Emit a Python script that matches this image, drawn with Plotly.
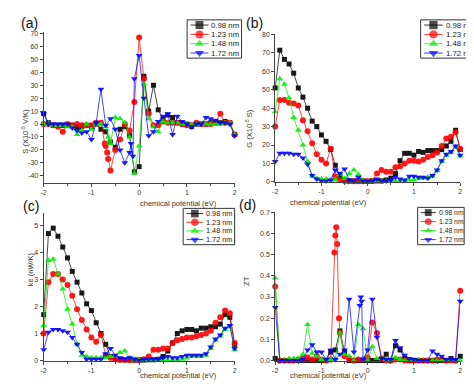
import plotly.graph_objects as go

W, H = 474, 386

labels = ["0.98 nm", "1.23 nm", "1.48 nm", "1.72 nm"]
colors = ["#000000", "#ff0000", "#00f000", "#0000ff"]
symbols = ["square", "circle", "triangle-up", "triangle-down"]
msizes = [5, 6, 6, 6]

grid = [round(-2 + 0.1 * i, 2) for i in range(41)]

# ---------------- (a) Seebeck S (x10^-5 V/K) ----------------
xa_098 = grid
Sa_098 = [8, 1, -1, -1, -1, -1, -1, -2, -2, -1, -2, 0, -4, -6, -14, -18, -4, -2, -9, -37, -33,
          37, 10, 30, 11, 4, 7, 5, 1, 0, 0, -2, 0, 0, 0, 1, 1, 1, 2, 1, -8]
xa_123 = grid[:13] + [-0.72, -0.7, -0.67, -0.65] + grid[14:]
Sa_123 = [0, 0, -1, -2, -6, 0, -1, 0, -1, -1, -1, 1, 1, -15, -17, -22, -27,
          -36, -20, -12, 0, -5, 17, 67, 35, 8, -1, -1, 2, 1, 1, 1, 0, -1, -1, 1, 0, 0, 0, 1, 8, 1, 1, -8]
xa_148 = grid[:14] + [-0.65, -0.62] + grid[14:]
Sa_148 = [0, 0, -1, -1, -1, -2, -2, -8, -5, 0, -4, 0, 0, -2, -10, -13,
          -15, 5, 4, 1, -10, -38, -17, 31, 4, -2, -6, 2, 1, 1, 1, 0, 0, -1, 0, 0, 0, 0, 0, 0, 1, 1, -8]
xa_172 = grid[:19] + [-0.17, -0.13] + grid[19:]
Sa_172 = [8, 0, 0, 0, 0, 0, -3, -5, -7, -6, -12, 1, 27, -1, 4, -4, -20, -30, -22, -15, -25,
          35, 53, 20, -9, -6, 2, 6, 8, -8, 6, 2, 0, -2, 0, 0, 5, 4, 3, 1, 1, 0, -9]

# ---------------- (b) Conductance G (x10^-5 S) ----------------
Gb_098 = [51, 71.5, 66.5, 64, 59, 51, 46, 40, 33, 30, 25.5, 22, 17.5, 9, 3, 1, 0.5, 0.5, 0.5, 0.5, 0.3,
          0.5, 0.5, 0.5, 1, 2, 4.5, 11.5, 15.5, 15.5, 14.5, 16.5, 16, 17, 17, 17, 17.5, 19.5, 22, 28, 17.5]
Gb_123 = [30, 44.5, 44.5, 43, 42.5, 41.5, 33.5, 27.5, 21, 15, 12, 10, 18, 3, 1, 0.5, 0.3, 0.3, 0.3, 0.3, 0.3,
          0.5, 4.5, 6.5, 5.5, 5.5, 8, 8.5, 10, 11.5, 11.5, 11, 12, 13.5, 14.5, 16, 19.5, 23.5, 24.5, 27, 18]
Gb_148 = [38, 56, 53, 45.5, 35, 28, 20, 11, 3, 2, 1.5, 1.5, 1, 1, 4, 2, 4.5, 6.5, 4, 1, 0.3,
          0.3, 0.3, 0.3, 0.3, 0.3, 0.5, 0.5, 0.5, 1, 1, 2, 2, 2.5, 3, 6, 11, 14.5, 16, 19, 14]
Gb_172 = [11, 15.5, 15.5, 15.5, 15, 15, 13, 9.5, 3.5, 1.5, 0.5, 0.5, 1, 6.5, 4.5, 7, 1, 0.5, 2.5, 0.5, 0.3,
          0.5, 1.5, 0.5, 0.5, 1, 2.5, 1.5, 1, 3, 3, 2.5, 2.5, 2, 3.5, 6.5, 11.5, 15, 16.5, 19.5, 14.5]

# ---------------- (c) Electron thermal conductance ke (nW/K) ----------------
Kc_098 = [1.7, 4.7, 4.9, 4.6, 4.2, 3.8, 3.3, 2.9, 2.5, 2.1, 1.85, 1.4, 1.0, 0.6, 0.15, 0.05, 0.03, 0.03, 0.03, 0.02, 0.02,
          0.02, 0.03, 0.03, 0.05, 0.15, 0.35, 0.65, 1.0, 1.1, 1.15, 1.15, 1.1, 1.2, 1.2, 1.25, 1.25, 1.35, 1.7, 1.6, 0.6]
Kc_123 = [1.0, 2.9, 3.2, 3.2, 3.0, 2.8, 2.4, 1.9, 1.5, 1.15, 0.85, 0.7, 0.95, 0.2, 0.1, 0.05, 0.03, 0.02, 0.02, 0.02, 0.02,
          0.05, 0.15, 0.4, 0.4, 0.45, 0.45, 0.65, 0.75, 0.8, 0.85, 0.85, 0.9, 0.95, 1.0, 1.1, 1.4, 1.6, 1.85, 1.75, 0.65]
Kc_148 = [1.3, 3.7, 3.75, 3.2, 2.65, 1.9, 1.35, 0.6, 0.2, 0.15, 0.1, 0.1, 0.1, 0.1, 0.15, 0.15, 0.3, 0.35, 0.1, 0.05, 0.02,
          0.02, 0.02, 0.02, 0.02, 0.02, 0.02, 0.02, 0.02, 0.05, 0.1, 0.15, 0.15, 0.15, 0.2, 0.45, 0.75, 0.9, 1.15, 1.25, 0.4]
Kc_172 = [0.4, 1.05, 1.15, 1.15, 1.1, 1.05, 0.85, 0.6, 0.3, 0.05, 0.05, 0.05, 0.05, 0.25, 0.45, 0.2, 0.1, 0.05, 0.1, 0.05, 0.0,
          0.05, 0.05, 0.05, 0.05, 0.1, 0.15, 0.1, 0.1, 0.15, 0.2, 0.2, 0.2, 0.2, 0.25, 0.5, 0.8, 0.95, 1.2, 1.3, 0.45]

# ---------------- (d) Figure of merit ZT ----------------
Zd_098 = [0.01, 0, 0, 0, 0, 0, 0, 0, 0, 0, 0, 0, 0.04, 0.05, 0.14, 0.04, 0, 0, 0, 0, 0,
          0, 0, 0, 0.03, 0, 0.07, 0.05, 0.01, 0, 0, 0, 0, 0, 0, 0, 0, 0, 0.01, 0, 0.02]
xd_123 = grid[:13] + [-0.72, -0.7, -0.68, -0.66, -0.62] + grid[14:]
Zd_123 = [0.35, 0, 0, 0, 0, 0.005, 0.01, 0.015, 0.005, 0.02, 0.005, 0, 0.005,
          0.51, 0.59, 0.63, 0.55, 0.2,
          0.13, 0.02, 0.01, 0, 0.005, 0.005, 0.015, 0.18, 0.13, 0.01, 0, 0, 0.005, 0.005, 0, 0, 0, 0, 0, 0, 0, 0.005, 0.005,
          0, 0, 0, 0.33]
Zd_148 = [0.39, 0, 0, 0.01, 0.01, 0.01, 0.03, 0.17, 0.035, 0.02, 0.005, 0, 0.005, 0.01, 0.13, 0.03, 0.02, 0, 0.17, 0.15, 0,
          0.065, 0.01, 0.01, 0.005, 0.005, 0.015, 0.005, 0, 0, 0, 0, 0, 0, 0, 0, 0, 0, 0, 0, 0]
xd_172 = grid[:18] + [-0.17, -0.15, -0.13] + grid[19:]
Zd_172 = [0.25, 0, 0, 0, 0, 0, 0.005, 0.05, 0.075, 0.04, 0.04, 0.005, 0.05, 0.005, 0.03, 0.05, 0.29, 0.04,
          0.26, 0.30, 0.28,
          0.005, 0.05, 0.29, 0.11, 0.01, 0.005, 0.005, 0.095, 0.06, 0.025, 0.01, 0.005, 0, 0, 0, 0.045, 0.03, 0.02, 0.005,
          0.005, 0.005, 0.28]

panels = [
    dict(xs=[xa_098, xa_123, xa_148, xa_172], ys=[Sa_098, Sa_123, Sa_148, Sa_172]),
    dict(xs=[grid] * 4, ys=[Gb_098, Gb_123, Gb_148, Gb_172]),
    dict(xs=[grid] * 4, ys=[Kc_098, Kc_123, Kc_148, Kc_172]),
    dict(xs=[grid, xd_123, grid, xd_172], ys=[Zd_098, Zd_123, Zd_148, Zd_172]),
]

# pixel boxes of each plot area: left, right, top, bottom
boxes = [(33, 226, 20, 174), (267, 454, 22, 173), (33, 226, 205, 355), (267, 454, 204, 355)]
yranges = [[-45.5, 71.5], [0, 80.5], [0, 5.45], [0, 0.7]]
ytickvals = [list(range(-40, 80, 10)), list(range(0, 90, 10)), list(range(0, 6)), [i / 10 for i in range(8)]]
yticktext = [[str(v) for v in ytickvals[0]], [str(v) for v in ytickvals[1]], [str(v) for v in ytickvals[2]],
             ["%.1f" % v for v in ytickvals[3]]]
ytitles = ["S (X10<sup>-5</sup> V/K)", "G (X10<sup>-5</sup> S)", "ke (nW/K)", "ZT"]
ytitle_x = [8, 241, 15, 238]
# legend boxes: left, top, width, height, font size
legend_box = [(178, 8, 55, 39, 7.8), (414, 8, 57, 39, 7.8), (174, 200, 52, 37, 7.3), (411, 199, 47, 38, 6.8)]
panel_labels = ["(a)", "(b)", "(c)", "(d)"]
panel_label_pos = [(9, 11), (236, 11), (11, 198), (229, 197)]

FONT = "Arial, Liberation Sans, sans-serif"
ax_col = "#444444"
tick_font = dict(family=FONT, size=7, color="#333333")

fig = go.Figure()

for p, panel in enumerate(panels):
    xa = "x" if p == 0 else "x%d" % (p + 1)
    ya = "y" if p == 0 else "y%d" % (p + 1)
    for s in range(4):
        fig.add_trace(go.Scatter(
            x=panel["xs"][s], y=panel["ys"][s], mode="lines+markers",
            name=labels[s], xaxis=xa, yaxis=ya, showlegend=False,
            line=dict(color=colors[s], width=0.8),
            marker=dict(symbol=symbols[s], size=msizes[s], color=colors[s], line=dict(width=0)),
            opacity=0.9, cliponaxis=False,
        ))
    l, r, t, b = boxes[p]
    xkey = "xaxis" if p == 0 else "xaxis%d" % (p + 1)
    ykey = "yaxis" if p == 0 else "yaxis%d" % (p + 1)
    fig.layout[xkey] = dict(
        domain=[l / W, r / W], anchor=ya, range=[-2, 2], tickvals=[-2, -1, 0, 1, 2],
        ticktext=["-2", "-1", "0", "1", "2"],
        showline=True, linecolor=ax_col, linewidth=1, ticks="outside", ticklen=3, tickcolor=ax_col,
        minor=dict(tickvals=[-1.5, -0.5, 0.5, 1.5], ticks="outside", ticklen=2, tickcolor=ax_col),
        showgrid=False, zeroline=False, tickfont=tick_font, fixedrange=True,
    )
    fig.layout[ykey] = dict(
        domain=[1 - b / H, 1 - t / H], anchor=xa, range=yranges[p],
        tickvals=ytickvals[p], ticktext=yticktext[p],
        showline=True, linecolor=ax_col, linewidth=1, ticks="outside", ticklen=3, tickcolor=ax_col,
        showgrid=False, zeroline=False, tickfont=tick_font, fixedrange=True,
    )
    # axis titles
    fig.add_annotation(x=(l + r) / 2 / W, y=1 - (b + 21) / H, xref="paper", yref="paper",
                       text="chemical potential (eV)", showarrow=False, borderpad=0,
                       font=dict(family=FONT, size=7.5, color="#333333"))
    fig.add_annotation(x=ytitle_x[p] / W, y=1 - (t + b) / 2 / H, xref="paper", yref="paper",
                       text=ytitles[p], showarrow=False, textangle=-90, borderpad=0,
                       font=dict(family=FONT, size=7.5, color="#333333"))
    px_, py_ = panel_label_pos[p]
    fig.add_annotation(x=px_ / W, y=1 - py_ / H, xref="paper", yref="paper", xanchor="left", yanchor="middle",
                       text=panel_labels[p], showarrow=False, borderpad=0,
                       font=dict(family=FONT, size=14, color="#111111"))

    # compact legend, drawn on an invisible full-page pixel axis
    lx, ly, lw, lh, lf = legend_box[p]
    k = lw / 55.0
    fig.add_shape(type="rect", xref="paper", yref="paper",
                  x0=lx / W, x1=(lx + lw) / W, y0=1 - ly / H, y1=1 - (ly + lh) / H,
                  line=dict(color="#333333", width=1), fillcolor="white", layer="below")
    for s in range(4):
        ry = ly + 5.3 + s * (lh - 10.5) / 3
        fig.add_trace(go.Scatter(
            x=[lx + 3.5 * k, lx + 12.5 * k, lx + 21.5 * k], y=[ry, ry, ry], mode="lines+markers",
            xaxis="x5", yaxis="y5", showlegend=False, hoverinfo="skip",
            line=dict(color=colors[s], width=0.8),
            marker=dict(symbol=symbols[s], size=[0, 8 * k, 0], color=colors[s], line=dict(width=0)),
            cliponaxis=False,
        ))
        fig.add_annotation(x=(lx + 23.5 * k) / W, y=1 - ry / H, xref="paper", yref="paper",
                           xanchor="left", yanchor="middle", text=labels[s], showarrow=False, borderpad=0,
                           font=dict(family=FONT, size=lf, color="#222222"))

fig.update_layout(
    width=W, height=H, margin=dict(l=0, r=0, t=0, b=0),
    paper_bgcolor="white", plot_bgcolor="rgba(0,0,0,0)", showlegend=False,
    xaxis5=dict(domain=[0, 1], range=[0, W], visible=False, anchor="y5", fixedrange=True),
    yaxis5=dict(domain=[0, 1], range=[H, 0], visible=False, anchor="x5", fixedrange=True),
)
fig.write_html("out.html")
